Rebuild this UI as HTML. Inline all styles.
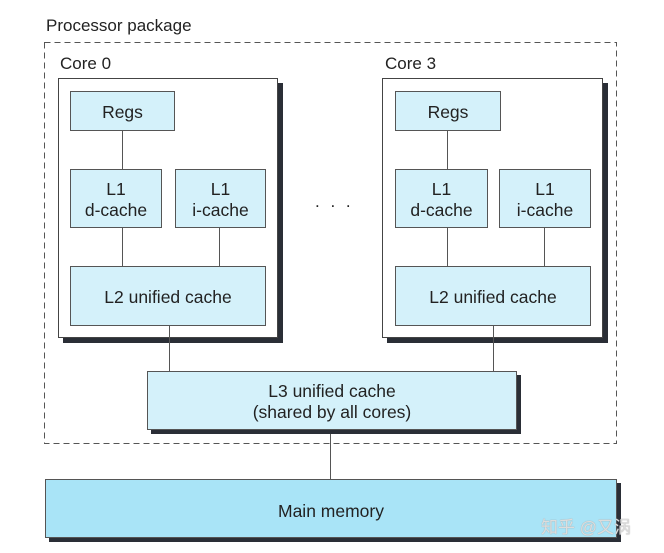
<!DOCTYPE html>
<html><head><style>
body{margin:0;width:664px;height:553px;background:#fff;position:relative;overflow:hidden;font-family:"Liberation Sans","Noto Sans CJK SC",sans-serif;color:#222}
div{position:absolute;box-sizing:border-box}
.b{background:#d4f1fa;border:1px solid #555;display:flex;align-items:center;justify-content:center;text-align:center;font-size:17.5px;line-height:21px;padding-top:2px}
.core{background:#fff;border:1px solid #444;box-shadow:5px 5px 0 #2a2e36}
.vl{width:1px;background:#555}
.t{font-size:17px;white-space:nowrap}
</style></head><body>
<div class="t" style="left:46px;top:16px">Processor package</div>
<svg style="position:absolute;left:0;top:0" width="664" height="553"><rect x="44.5" y="42.5" width="572" height="401" fill="none" stroke="#555" stroke-dasharray="6,4"/></svg>
<div class="t" style="left:60px;top:54px">Core 0</div>
<div class="t" style="left:385px;top:54px">Core 3</div>
<div class="core" style="left:58px;top:78px;width:220px;height:260px"></div>
<div class="core" style="left:382px;top:78px;width:221px;height:260px"></div>

<div class="vl" style="left:122px;top:130px;height:40px"></div>
<div class="vl" style="left:122px;top:227px;height:40px"></div>
<div class="vl" style="left:219px;top:227px;height:40px"></div>
<div class="vl" style="left:447px;top:130px;height:40px"></div>
<div class="vl" style="left:447px;top:227px;height:40px"></div>
<div class="vl" style="left:544px;top:227px;height:40px"></div>
<div class="vl" style="left:169px;top:325px;height:47px"></div>
<div class="vl" style="left:493px;top:325px;height:47px"></div>
<div class="vl" style="left:330px;top:429px;height:51px"></div>

<div class="b" style="left:70px;top:91px;width:105px;height:40px">Regs</div>
<div class="b" style="left:70px;top:169px;width:92px;height:59px">L1<br>d-cache</div>
<div class="b" style="left:175px;top:169px;width:91px;height:59px">L1<br>i-cache</div>
<div class="b" style="left:70px;top:266px;width:196px;height:60px">L2 unified cache</div>

<div class="b" style="left:395px;top:91px;width:106px;height:40px">Regs</div>
<div class="b" style="left:395px;top:169px;width:93px;height:59px">L1<br>d-cache</div>
<div class="b" style="left:499px;top:169px;width:92px;height:59px">L1<br>i-cache</div>
<div class="b" style="left:395px;top:266px;width:196px;height:60px">L2 unified cache</div>

<div class="t" style="left:315px;top:192px;letter-spacing:3px">. . .</div>

<div class="b" style="left:147px;top:371px;width:370px;height:59px;box-shadow:4px 4px 0 #2a2e36">L3 unified cache<br>(shared by all cores)</div>
<div class="b" style="left:45px;top:479px;width:572px;height:59px;background:#a9e4f7;box-shadow:4px 4px 0 #2a2e36;padding-top:6px">Main memory</div>
<div class="t" style="left:541px;top:513px;font-size:17px;color:#ddd;text-shadow:0 0 1px #999">知乎 @又涡</div>
</body></html>
